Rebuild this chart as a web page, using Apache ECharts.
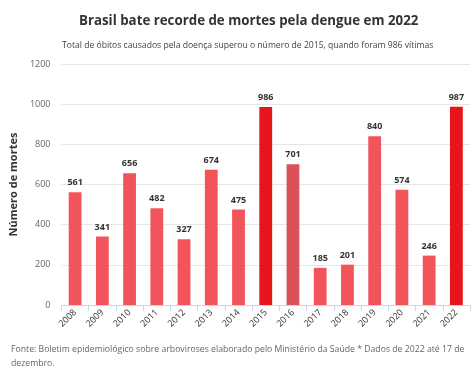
<!DOCTYPE html>
<html><head><meta charset="utf-8">
<script src="https://cdn.jsdelivr.net/npm/echarts@6/dist/echarts.min.js"></script>
<style>html,body{margin:0;padding:0;background:#fff}#c{width:474px;height:372px}</style>
</head><body><div id="c"></div>
<script>
const categories = ['2008','2009','2010','2011','2012','2013','2014','2015','2016','2017','2018','2019','2020','2021','2022'];
const deaths = [561,341,656,482,327,674,475,986,701,185,201,840,574,246,987];
const barColors = ['#f2545b','#f2545b','#f2545b','#f2545b','#f2545b','#f2545b','#f2545b','#e8141b','#d9525a','#f2545b','#f2545b','#f2545b','#f2545b','#f2545b','#e8141b'];
const yTicks = {min:0, max:1200, interval:200};
const titleText = 'Brasil bate recorde de mortes pela dengue em 2022';
const subtitleText = 'Total de óbitos causados pela doença superou o número de 2015, quando foram 986 vítimas';
const footerText = 'Fonte: Boletim epidemiológico sobre arboviroses elaborado pelo Ministério da Saúde * Dados de 2022 até 17 de\ndezembro.';
const yName = 'Número de mortes';

const font = '"Open Sans", sans-serif';
const chart = echarts.init(document.getElementById('c'), null, {renderer:'canvas'});
chart.setOption({
  animation:false,
  textStyle:{fontFamily:font},
  title:[
    {text:titleText, left:74, top:10, textStyle:{fontFamily:font, fontSize:13.3, fontWeight:'bold', color:'#333'}},
    {text:subtitleText, left:57, top:36, textStyle:{fontFamily:font, fontSize:8.6, fontWeight:'normal', color:'#444'}}
  ],
  graphic:[{type:'text', left:11, top:343, style:{text:footerText, font:'8.7px "Open Sans", sans-serif', fill:'#666', lineHeight:14}}],
  grid:{left:59, right:4, top:64, bottom:67, containLabel:false},
  xAxis:{
    type:'category', data:categories,
    axisLine:{lineStyle:{color:'#ccd6eb'}},
    axisTick:{show:true, alignWithLabel:false, lineStyle:{color:'#ccd6eb'}, length:6},
    axisLabel:{rotate:45, fontSize:9, color:'#333', fontFamily:font, margin:6}
  },
  yAxis:{
    type:'value', min:yTicks.min, max:yTicks.max, interval:yTicks.interval,
    name:yName, nameLocation:'middle', nameGap:30,
    nameTextStyle:{fontFamily:font, fontSize:11, fontWeight:'bold', color:'#333'},
    axisLine:{show:false}, axisTick:{show:false},
    axisLabel:{fontSize:9, color:'#666', fontFamily:font, margin:11, formatter:v=>String(v)},
    splitLine:{lineStyle:{color:'#e6e6e6', width:1}}
  },
  series:[{
    type:'bar',
    data:deaths.map((v,i)=>({value:v, itemStyle:{color:barColors[i]}})),
    barWidth:'47%',
    label:{show:true, position:'top', distance:5, fontFamily:font, fontSize:9, fontWeight:'bold', color:'#333'}
  }]
});
</script></body></html>
